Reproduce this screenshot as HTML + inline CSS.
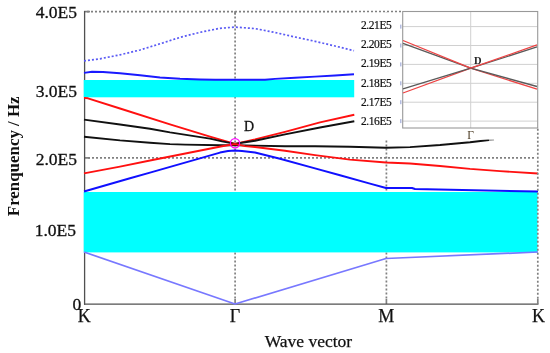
<!DOCTYPE html>
<html><head><meta charset="utf-8">
<style>
html,body{margin:0;padding:0;background:#fff;}
body{width:550px;height:353px;overflow:hidden;}
svg{display:block;}
text{font-family:"Liberation Serif","Times New Roman",serif;}
</style></head>
<body>
<svg width="550" height="353" viewBox="0 0 550 353">
<rect x="0" y="0" width="550" height="353" fill="#fff"/>

<!-- grid (dotted) -->
<g stroke="#808080" stroke-width="1.7" stroke-dasharray="2 2" fill="none">
  <line x1="87" y1="11.6" x2="402" y2="11.6"/>
  <line x1="88" y1="157.9" x2="536" y2="157.9"/>
  <line x1="235.1" y1="12.5" x2="235.1" y2="300"/>
  <line x1="386.4" y1="12.5" x2="386.4" y2="300"/>
</g>
<!-- ticks -->
<g stroke="#808080" stroke-width="1.7" fill="none">
  <line x1="84" y1="11.6" x2="90" y2="11.6"/>
  <line x1="84" y1="157.9" x2="90" y2="157.9"/>
  <line x1="235.1" y1="11" x2="235.1" y2="14.5"/>
  <line x1="235.1" y1="304" x2="235.1" y2="299"/>
  <line x1="386.4" y1="304" x2="386.4" y2="299"/>
</g>
<!-- axes -->
<g stroke="#505050" stroke-width="1.3" fill="none">
  <line x1="84.6" y1="11" x2="84.6" y2="304.8"/>
  <line x1="84" y1="304.2" x2="538.5" y2="304.2"/>
</g>

<!-- cyan bands -->
<rect x="83.7" y="80" width="270.5" height="17.3" fill="#00ffff"/>
<rect x="83.7" y="192" width="453.8" height="60.4" fill="#00ffff"/>

<!-- curves -->
<g fill="none" stroke-linejoin="round" stroke-linecap="butt">
  <!-- blue dotted top -->
  <polyline stroke="#5a5af4" stroke-width="1.7" stroke-dasharray="2 2"
    points="84,60.8 100,58.8 120,54.8 140,50 160,43.8 180,37.4 200,32.3 220,28.3 235,27.1 255,28.6 275,32.5 295,37 315,41.3 335,46 354,50.7"/>
  <!-- blue solid upper -->
  <polyline stroke="#1a1aff" stroke-width="1.9"
    points="84,72.9 92,71.8 103,72 120,73.3 140,75.2 160,77.5 180,78.8 200,79.5 215,79.8 265,79.8 275,78.9 295,77.7 315,76.6 335,75.5 354,74.2"/>
  <!-- red upper -->
  <polyline stroke="#ff1010" stroke-width="1.9"
    points="84,97.9 88,98.3 120,108.5 170,124.3 210,136.6 235,143.9 245,141.6 255,139.4 285,131.8 320,122.4 354.3,114.8"/>
  <!-- black upper -->
  <polyline stroke="#111" stroke-width="1.9"
    points="84,119.6 120,124.5 150,128.8 170,132.4 210,138.6 222,141.4 235,143.9 245,142.2 255,140.7 285,134.4 320,127.5 354.3,121.2"/>
  <!-- black lower -->
  <polyline stroke="#111" stroke-width="1.9"
    points="84,136.7 120,140.4 150,142.7 170,144.1 185,144.6 220,145.3 245,145.4 285,146.2 315,146.3 350,146.8 386,147.7 410,147.1 440,145 470,142.2 489,140"/>
  <polyline stroke="#999" stroke-width="1.9" points="489,140 494,139.6"/>
  <!-- red lower -->
  <polyline stroke="#ff1010" stroke-width="1.9"
    points="84,173.4 120,166.6 150,160.5 222,146.2 235,144 245,146.1 255,147 285,150.8 315,155.1 350,159.6 386,162.5 410,163.5 440,166 470,168.9 500,171.1 538,173.5"/>
  <!-- blue lower -->
  <polyline stroke="#1010ff" stroke-width="2"
    points="84,191.5 130,178.3 150,172.6 220,152.6 228,151 235,150.6 242,150.9 255,152.5 280,158.7 315,168.4 340,175.3 370,183.6 386,188 412,188 415,189 538,191.6"/>
  <!-- light blue bottom -->
  <polyline stroke="#7878ff" stroke-width="1.7"
    points="84,252 235,304 386,258.5 538,252"/>
</g>
<!-- Dirac point -->
<circle cx="235" cy="143.2" r="4.6" fill="none" stroke="#ff00ff" stroke-width="1.3"/>
<text x="244" y="130.8" font-size="14" fill="#111" stroke="#111" stroke-width="0.3">D</text>

<!-- y labels -->
<g font-size="17.5" fill="#111" stroke="#111" stroke-width="0.3" text-anchor="end">
  <text x="77" y="18.3">4.0E5</text>
  <text x="77" y="96.9">3.0E5</text>
  <text x="77" y="165.2">2.0E5</text>
  <text x="76" y="236.3">1.0E5</text>
  <text x="81.3" y="309.6">0</text>
</g>
<!-- x labels -->
<g font-size="18" fill="#111" stroke="#111" stroke-width="0.25" text-anchor="middle">
  <text x="84.3" y="321.8">K</text>
  <text x="234.9" y="322">Γ</text>
  <text x="386.3" y="322">M</text>
  <text x="538.4" y="321.8">K</text>
</g>
<text x="308.4" y="347.2" font-size="17.5" fill="#111" stroke="#111" stroke-width="0.25" text-anchor="middle">Wave vector</text>
<text transform="translate(18.9,156.3) rotate(-90)" font-size="16.9" font-weight="bold" fill="#111" text-anchor="middle">Frenquency / Hz</text>

<!-- inset -->
<rect x="355" y="12.5" width="195" height="127" fill="#fff"/>
<g stroke="#d0d0d0" stroke-width="1" fill="none">
  <line x1="403" y1="26.6" x2="537.5" y2="26.6"/>
  <line x1="403" y1="45.5" x2="537.5" y2="45.5"/>
  <line x1="403" y1="64.4" x2="537.5" y2="64.4"/>
  <line x1="403" y1="83.3" x2="537.5" y2="83.3"/>
  <line x1="403" y1="102.2" x2="537.5" y2="102.2"/>
  <line x1="403" y1="121.1" x2="537.5" y2="121.1"/>
  <line x1="470.7" y1="11.5" x2="470.7" y2="128"/>
</g>
<rect x="402.7" y="11.5" width="135" height="116.5" fill="none" stroke="#999" stroke-width="1.1"/>
<g fill="#b4bce0">
  <rect x="400" y="24.6" width="1.5" height="4"/>
  <rect x="400" y="43.5" width="1.5" height="4"/>
  <rect x="400" y="62.4" width="1.5" height="4"/>
  <rect x="400" y="81.3" width="1.5" height="4"/>
  <rect x="400" y="100.2" width="1.5" height="4"/>
  <rect x="400" y="119.1" width="1.5" height="4"/>
</g>
<g fill="none" stroke-width="1.3" stroke-linejoin="round">
  <polyline stroke="#ee4444" points="403,93 470.7,68.2 537,89.1"/>
  <polyline stroke="#5a5a5a" points="403,88.8 470.7,68.2 537,86.5"/>
  <polyline stroke="#5a5a5a" points="403,43.4 470.7,68.2 537,46.9"/>
  <polyline stroke="#ee4444" points="403,40.5 470.7,68.2 537,44.9"/>
</g>
<g font-size="11.5" fill="#111" stroke="#111" stroke-width="0.2" text-anchor="end" letter-spacing="-0.4">
  <text x="391.4" y="28.9">2.21E5</text>
  <text x="391.4" y="48.1">2.20E5</text>
  <text x="391.4" y="67.3">2.19E5</text>
  <text x="391.4" y="86.5">2.18E5</text>
  <text x="391.4" y="105.7">2.17E5</text>
  <text x="391.4" y="124.9">2.16E5</text>
</g>
<g stroke="#808080" stroke-width="1.7" fill="none"><line x1="537.8" y1="128.8" x2="537.8" y2="300" stroke-dasharray="2 2"/><line x1="537.8" y1="299" x2="537.8" y2="304"/></g>
<text x="474" y="63.7" font-size="10.5" font-weight="bold" fill="#222">D</text>
<text x="470.6" y="138.8" font-size="11.5" fill="#4a3a22" text-anchor="middle">Γ</text>
</svg>
</body></html>
